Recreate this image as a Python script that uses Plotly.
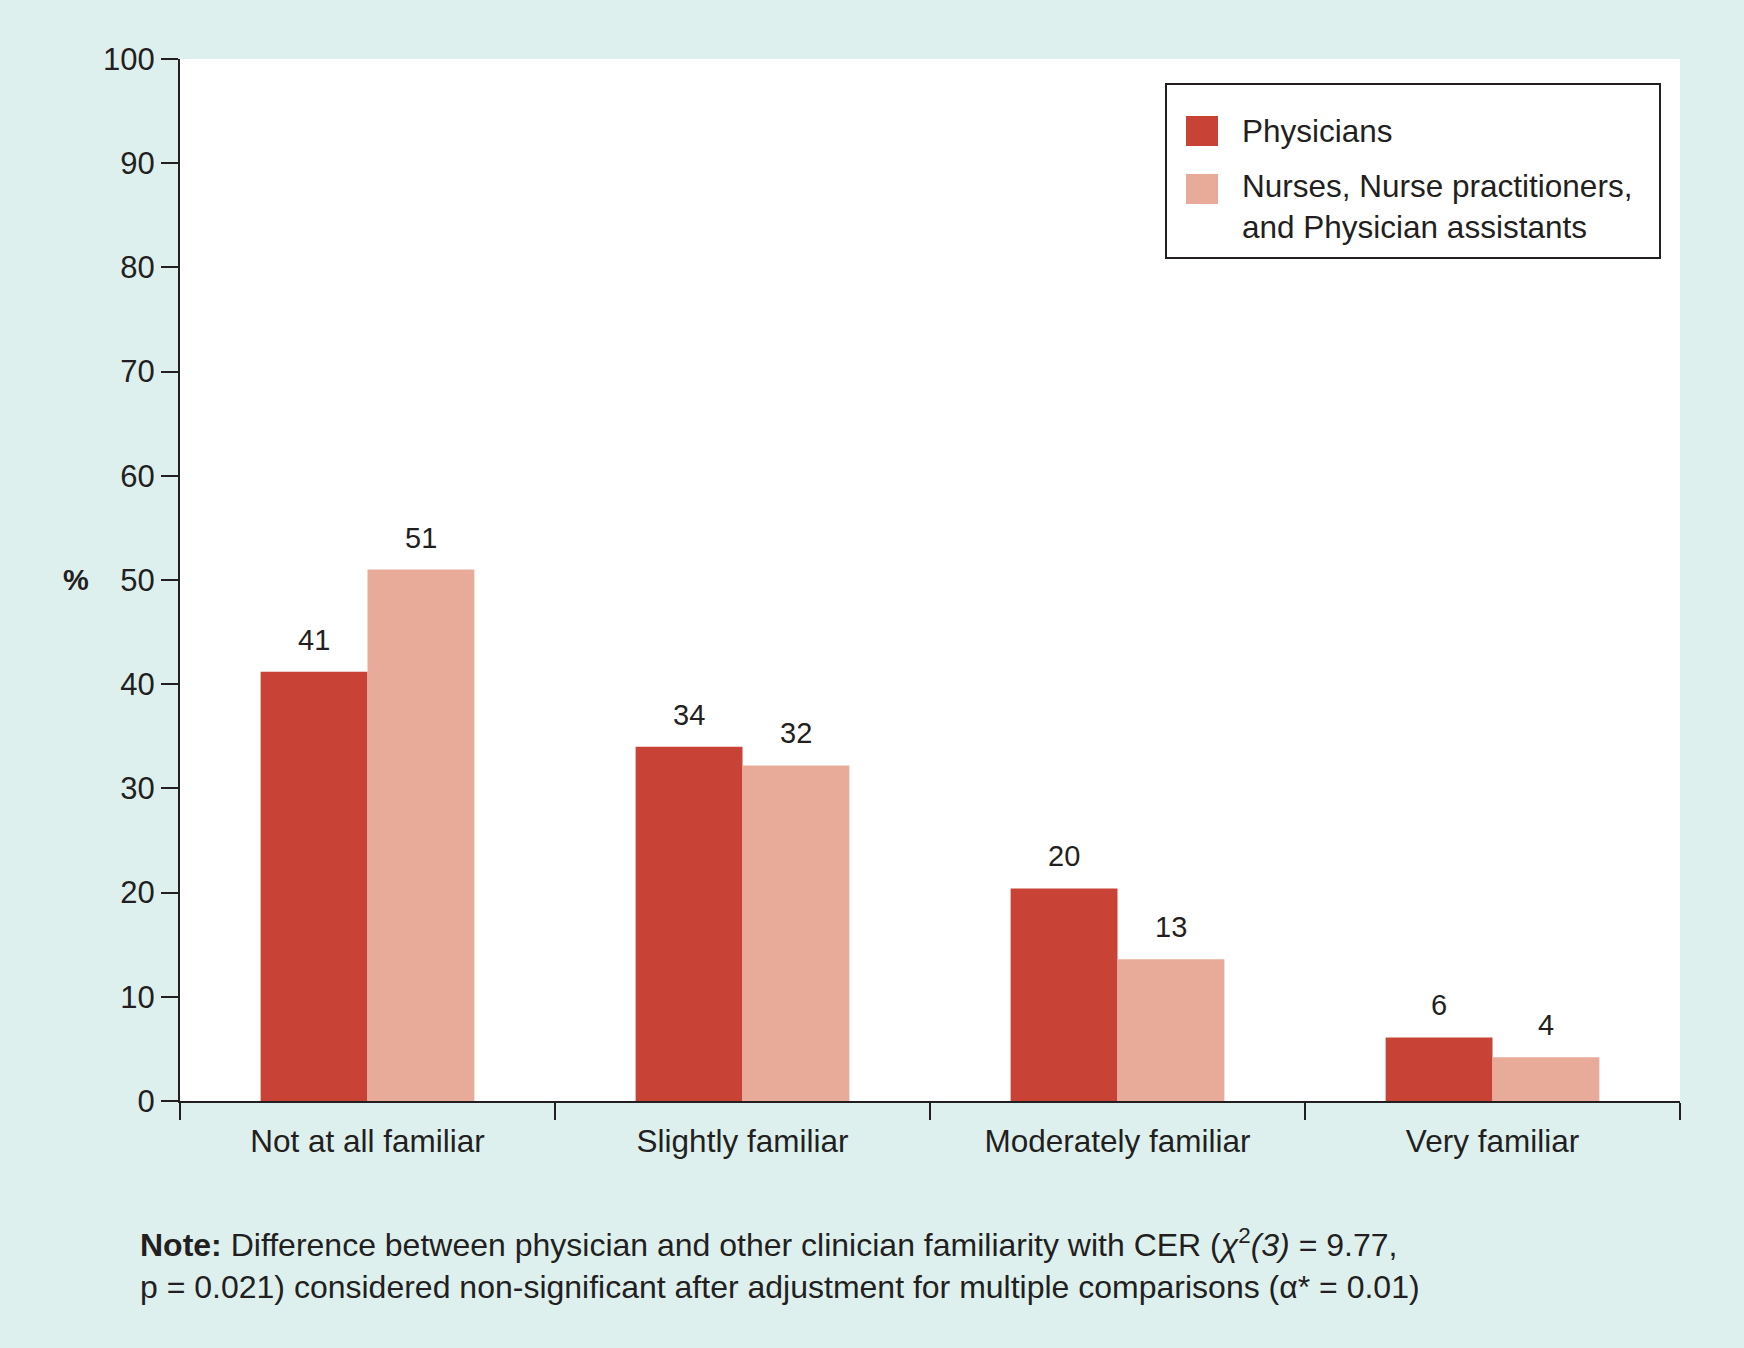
import plotly.graph_objects as go

categories = ["Not at all familiar", "Slightly familiar", "Moderately familiar", "Very familiar"]
physicians = [41.2, 34.0, 20.4, 6.1]
others = [51.0, 32.2, 13.6, 4.2]
physician_labels = ["41", "34", "20", "6"]
other_labels = ["51", "32", "13", "4"]
series_names = ["Physicians", "Nurses, Nurse practitioners,<br>and Physician assistants"]
y_ticks = [0, 10, 20, 30, 40, 50, 60, 70, 80, 90, 100]

C_PHYS = "#C94236"
C_OTHER = "#E8AB99"
BG = "#DEF0EE"
INK = "#231F20"
FONT = "Liberation Sans, Arial, Helvetica, sans-serif"

W, H = 1744, 1348
ML, MR, MT, MB = 180, 64, 59, 247
PW = W - ML - MR
PH = H - MT - MB
BARGAP = 0.43

fig = go.Figure()
fig.add_trace(go.Bar(x=categories, y=physicians, marker=dict(color=C_PHYS, line=dict(width=0)),
                     name="Physicians", showlegend=False))
fig.add_trace(go.Bar(x=categories, y=others, marker=dict(color=C_OTHER, line=dict(width=0)),
                     name="Others", showlegend=False))

# value labels above bars
cat_w = PW / len(categories)
bar_w = cat_w * (1 - BARGAP) / 2
for vals, labs, sign in [(physicians, physician_labels, -1), (others, other_labels, 1)]:
    for c, v, t in zip(categories, vals, labs):
        fig.add_annotation(x=c, y=v, text=t, showarrow=False, xref="x", yref="y",
                           xshift=sign * bar_w / 2, yanchor="bottom", yshift=14,
                           font=dict(size=29, color=INK, family=FONT))

# manual legend
def px2x(px):
    return (px - ML) / PW

def py2y(py):
    return (H - MB - py) / PH

fig.add_shape(type="rect", xref="paper", yref="paper",
              x0=px2x(1166), x1=px2x(1660), y0=py2y(258), y1=py2y(84),
              line=dict(color=INK, width=2), fillcolor="white", layer="above")
fig.add_shape(type="rect", xref="paper", yref="paper",
              x0=px2x(1186), x1=px2x(1218), y0=py2y(146), y1=py2y(116),
              line=dict(width=0), fillcolor=C_PHYS, layer="above")
fig.add_shape(type="rect", xref="paper", yref="paper",
              x0=px2x(1186), x1=px2x(1218), y0=py2y(204), y1=py2y(174),
              line=dict(width=0), fillcolor=C_OTHER, layer="above")
fig.add_annotation(xref="paper", yref="paper", x=px2x(1240), y=py2y(131), text=series_names[0],
                   showarrow=False, xanchor="left", yanchor="middle", align="left",
                   font=dict(size=31.5, color=INK, family=FONT))
fig.add_annotation(xref="paper", yref="paper", x=px2x(1240), y=py2y(207), text=series_names[1],
                   showarrow=False, xanchor="left", yanchor="middle", align="left",
                   font=dict(size=31.5, color=INK, family=FONT))

# y-axis title
fig.add_annotation(xref="paper", yref="y", x=px2x(76), y=50, text="<b>%</b>", showarrow=False,
                   xanchor="center", yanchor="middle", font=dict(size=29, color=INK, family=FONT))

# note
note = ("<b>Note:</b> Difference between physician and other clinician familiarity with CER "
        "(<i>χ</i><sup>2</sup><i>(3)</i> = 9.77,<br>"
        "p = 0.021) considered non-significant after adjustment for multiple comparisons (α* = 0.01)")
fig.add_annotation(xref="paper", yref="paper", x=px2x(138), y=py2y(1264), text=note,
                   showarrow=False, xanchor="left", yanchor="middle", align="left",
                   font=dict(size=32, color=INK, family=FONT))

fig.update_layout(
    width=W, height=H,
    margin=dict(l=ML, r=MR, t=MT, b=MB, pad=0),
    paper_bgcolor=BG, plot_bgcolor="white",
    barmode="group", bargap=BARGAP, bargroupgap=0,
    font=dict(family=FONT, color=INK),
    showlegend=False,
)
fig.update_xaxes(showline=True, linecolor=INK, linewidth=2, ticks="outside", tickson="boundaries",
                 ticklen=17, tickwidth=2, tickcolor=INK, showgrid=False, zeroline=False,
                 ticklabelstandoff=11,
                 tickfont=dict(size=31.5, color=INK, family=FONT))
fig.update_yaxes(range=[0, 100], tickvals=y_ticks, showline=True, linecolor=INK, linewidth=2,
                 ticks="outside", ticklen=17, tickwidth=2, tickcolor=INK, showgrid=False,
                 zeroline=False, ticklabelstandoff=0,
                 tickfont=dict(size=31, color=INK, family=FONT))

fig.write_html("out.html")
